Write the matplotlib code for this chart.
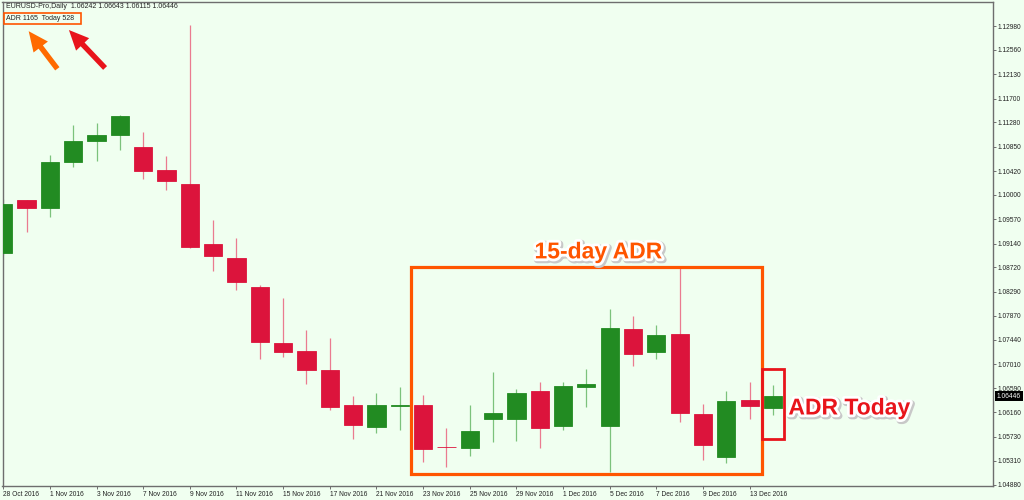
import matplotlib
matplotlib.use("Agg")
import matplotlib.pyplot as plt
import matplotlib.patheffects as pe
from matplotlib.patches import Rectangle, FancyArrowPatch

# daily EURUSD candles, 28 Oct 2016 - 14 Dec 2016
dates = ["28 Oct", "31 Oct", "1 Nov", "2 Nov", "3 Nov", "4 Nov", "7 Nov", "8 Nov",
         "9 Nov", "10 Nov", "11 Nov", "14 Nov", "15 Nov", "16 Nov", "17 Nov", "18 Nov",
         "21 Nov", "22 Nov", "23 Nov", "24 Nov", "25 Nov", "28 Nov", "29 Nov", "30 Nov",
         "1 Dec", "2 Dec", "5 Dec", "6 Dec", "7 Dec", "8 Dec", "9 Dec", "12 Dec",
         "13 Dec", "14 Dec"]
opens = [1.08980, 1.09901, 1.09763, 1.10585, 1.10945, 1.11062, 1.10850, 1.10435,
         1.10192, 1.09138, 1.08881, 1.08380, 1.07386, 1.07245, 1.06910, 1.06287,
         1.05899, 1.06276, 1.06289, 1.05555, 1.05528, 1.06040, 1.06050, 1.06534,
         1.05922, 1.06605, 1.05922, 1.07639, 1.07227, 1.07540, 1.06139, 1.05380,
         1.06375, 1.06242]
highs = [1.09922, 1.09905, 1.10698, 1.11238, 1.11263, 1.11410, 1.11104, 1.10686,
         1.12998, 1.09553, 1.09244, 1.08410, 1.08186, 1.07616, 1.07474, 1.06451,
         1.06509, 1.06605, 1.06463, 1.05881, 1.06292, 1.06869, 1.06569, 1.06693,
         1.06698, 1.06927, 1.07981, 1.07863, 1.07699, 1.08704, 1.06315, 1.06539,
         1.06693, 1.06643]
lows = [1.08939, 1.09350, 1.09604, 1.10497, 1.10598, 1.10792, 1.10275, 1.10081,
        1.09068, 1.08648, 1.08316, 1.07104, 1.07139, 1.06668, 1.06204, 1.05698,
        1.05793, 1.05842, 1.05281, 1.05193, 1.05398, 1.05645, 1.05662, 1.05539,
        1.05856, 1.06262, 1.05101, 1.06986, 1.07109, 1.05987, 1.05322, 1.05263,
        1.06050, 1.06115]
closes = [1.09834, 1.09772, 1.10580, 1.10956, 1.11057, 1.11392, 1.10421, 1.10248,
          1.09086, 1.08921, 1.08468, 1.07399, 1.07222, 1.06910, 1.06252, 1.05945,
          1.06287, 1.06284, 1.05510, 1.05547, 1.05839, 1.06146, 1.06509, 1.05881,
          1.06627, 1.06663, 1.07656, 1.07187, 1.07527, 1.06151, 1.05586, 1.06368,
          1.06275, 1.06446]

price_ticks = [1.12980, 1.12560, 1.12130, 1.11700, 1.11280, 1.10850, 1.10420, 1.10000,
               1.09570, 1.09140, 1.08720, 1.08290, 1.07870, 1.07440, 1.07010, 1.06590,
               1.06160, 1.05730, 1.05310, 1.04880]

bg = "#F0FFF0"
up_col, dn_col = "#228B22", "#DC143C"
up_wick, dn_wick = "#7cc27c", "#ea7b90"
orange, red = "#FF5500", "#E8141B"

fig = plt.figure(figsize=(10.24, 5.0), dpi=100, facecolor=bg)
ax = fig.add_axes([2.5 / 1024, 14 / 500, 990.5 / 1024, 484 / 500], facecolor=bg)

x = list(range(len(dates)))
for i in x:
    up = closes[i] >= opens[i]
    ax.vlines(i, lows[i], highs[i], color=up_wick if up else dn_wick, lw=0.9, zorder=2)
    lo = min(opens[i], closes[i])
    h = abs(closes[i] - opens[i])
    c = up_col if up else dn_col
    ax.bar(i, h, bottom=lo, width=0.78, color=c, edgecolor=c, lw=0.6, zorder=3)

ax.set_xlim(-0.03, 42.43)
ax.set_ylim(1.04862, 1.13404)

# axes / ticks like the MT4 chart
for s in ax.spines.values():
    s.set_color("#6e6e6e")
    s.set_linewidth(1.0)
ax.yaxis.tick_right()
ax.set_yticks(price_ticks)
ax.set_yticklabels([f"{p:.5f}" for p in price_ticks])
ax.set_xticks(x[::2])
ax.set_xticklabels([d + " 2016" for d in dates[::2]], ha="left")
ax.tick_params(axis="both", labelsize=4.8, colors="#6e6e6e", labelcolor="#222222",
               length=2.2, width=0.7, pad=1.2)
for lab in ax.get_xticklabels() + ax.get_yticklabels():
    lab.set_family("Liberation Sans")

# current price label
ax.text(1.004, closes[-1], f"{closes[-1]:.5f}", transform=ax.get_yaxis_transform(),
        fontsize=4.8, family="Liberation Sans", color="white", va="center", ha="left",
        bbox=dict(boxstyle="square,pad=0.25", fc="black", ec="none"), clip_on=False)

# header
fig.text(6 / 1024, 1 - 7 / 500, f"EURUSD-Pro,Daily  {opens[-1]:.5f} {highs[-1]:.5f} "
         f"{lows[-1]:.5f} {closes[-1]:.5f}", fontsize=5, family="Liberation Sans",
         color="#222222", va="center", ha="left")
fig.text(6 / 1024, 1 - 18.5 / 500, "ADR 1165  Today 528", fontsize=5,
         family="Liberation Sans", color="#222222", va="center", ha="left")
fig.patches.append(Rectangle((4.3, 500 - 24.3), 76.7, 11.6, transform=None,
                             fill=False, ec=orange, lw=1.2))

# arrows pointing at the header values
for (x0, y0, x1, y1, col) in [(59, 71, 27, 29, "#FF6A00"), (107, 70, 67, 28, red)]:
    fig.patches.append(FancyArrowPatch((x0, 500 - y0), (x1, 500 - y1), transform=None,
                                       arrowstyle="simple,tail_width=0.3,head_width=1.0,head_length=1.1",
                                       mutation_scale=13, color=col, lw=0))

# 15-day ADR window
first, last = 18, 32
top = max(highs[first:last + 1]) + 0.0003
bot = min(lows[first:last + 1]) - 0.0002
ax.add_patch(Rectangle((first - 0.53, bot), last - first + 1.06, top - bot,
                       fill=False, ec=orange, lw=2.3, zorder=4))
fx = [pe.Stroke(linewidth=5, foreground="#c8c8c8", offset=(1, -1)),
      pe.Stroke(linewidth=4, foreground="white"), pe.Normal()]
ax.text(25.5, top + 0.0026, "15-day ADR", fontsize=16.5, fontweight="bold",
        family="Liberation Sans", color=orange, ha="center", va="center",
        path_effects=fx, zorder=5)

# today's candle box
ax.add_patch(Rectangle((32.54, 1.05698), 0.94, 1.06922 - 1.05698, fill=False,
                       ec=red, lw=2.0, zorder=4))
ax.text(33.66, 1.06239, "ADR Today", fontsize=16.5, fontweight="bold",
        family="Liberation Sans", color=red, ha="left", va="center",
        path_effects=fx, zorder=5)

fig.savefig("out.png", dpi=100, facecolor=bg)
